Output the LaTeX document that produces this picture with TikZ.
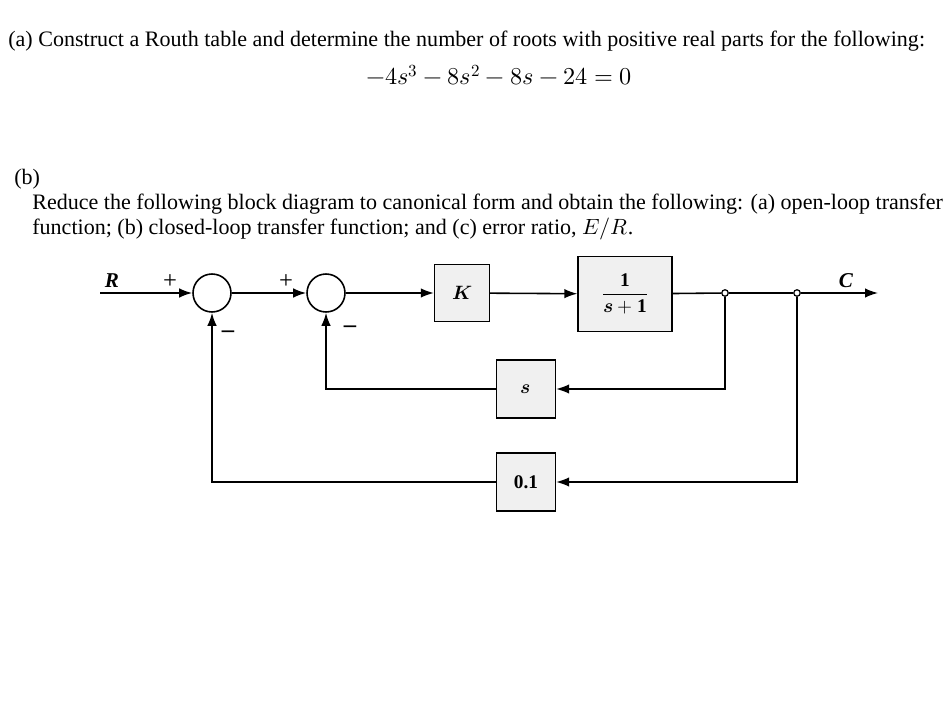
\documentclass[tikz,border=0pt]{standalone}
\usepackage{fontspec}
\setmainfont{Liberation Serif}
\usepackage{unicode-math}
\usetikzlibrary{arrows.meta}
\begin{document}
\begin{tikzpicture}[x=0.02cm,y=-0.02cm,
  txt/.style={anchor=base west,inner sep=0,font=\fontsize{12.55}{15}\selectfont},
  blk/.style={draw,line width=0.8pt,fill=gray!12,inner sep=0,font=\bfseries\fontsize{11}{13}\selectfont},
  sumj/.style={circle,draw,line width=0.9pt,minimum size=0.76cm,inner sep=0},
  dot/.style={circle,draw,line width=0.7pt,fill=white,minimum size=0.13cm,inner sep=0},
  sig/.style={line width=0.9pt,-{Latex[length=2.6mm,width=1.9mm]}},
  ln/.style={line width=0.9pt},
  lbl/.style={font=\fontsize{14}{16}\selectfont,inner sep=0}]
\useasboundingbox (0,0) rectangle (945,705);
\node[txt] (ta) at (8,47) {(a) Construct a Routh table and determine the number of roots with positive real parts for the following:};
\node[txt,font=\fontsize{13.8}{16}\selectfont] (eq) at (366,85) {$-4s^3-8s^2-8s-24=0$};
\node[txt] (tb) at (14,185) {(b)};
\node[txt] (tb1) at (32,210) {Reduce the following block diagram to canonical form and obtain the following: (a) open-loop transfer};
\node[txt] (tb2) at (32,235) {function; (b) closed-loop transfer function; and (c) error ratio, $E/R$.};
% blocks
\node[sumj] (s1) at (212,293) {};
\node[sumj] (s2) at (326,293) {};
\node[blk,minimum width=1.1cm,minimum height=1.14cm] (K) at (462,293) {$\symbfit{K}$};
\node[blk,minimum width=1.88cm,minimum height=1.5cm] (G) at (625,294) {$\dfrac{\mathbf{1}}{\symbfit{s}+\mathbf{1}}$};
\node[blk,minimum width=1.18cm,minimum height=1.16cm] (H1) at (526,389) {$\symbfit{s}$};
\node[blk,minimum width=1.18cm,minimum height=1.16cm] (H2) at (526,482) {\textbf{0.1}};
\node[dot] (j1) at (725,293) {};
\node[dot] (j2) at (797,293) {};
\coordinate (in) at (100,293);
\coordinate (out) at (878,293);
\node[lbl,font=\bfseries\itshape\fontsize{12}{14}\selectfont] (R) at (112,281) {R};
\node[lbl,font=\bfseries\itshape\fontsize{12}{14}\selectfont] (C) at (846,281) {C};
\node[lbl] (p1) at (170,282) {+};
\node[lbl] (p2) at (286,282) {+};
\node[lbl] (m1) at (228,334) {\textbf{–}};
\node[lbl] (m2) at (350,329) {\textbf{–}};
% connectors
\draw[sig] (in) -- (s1);
\draw[sig] (s1) -- (s2);
\draw[sig] (s2) -- (K);
\draw[sig] (K) -- (G);
\draw[ln] (G) -- (j1);
\draw[ln] (j1) -- (j2);
\draw[sig] (j2) -- (out);
\draw[sig] (j1) |- (H1);
\draw[sig] (H1) -| (s2);
\draw[sig] (j2) |- (H2);
\draw[sig] (H2) -| (s1);
\end{tikzpicture}
\end{document}
